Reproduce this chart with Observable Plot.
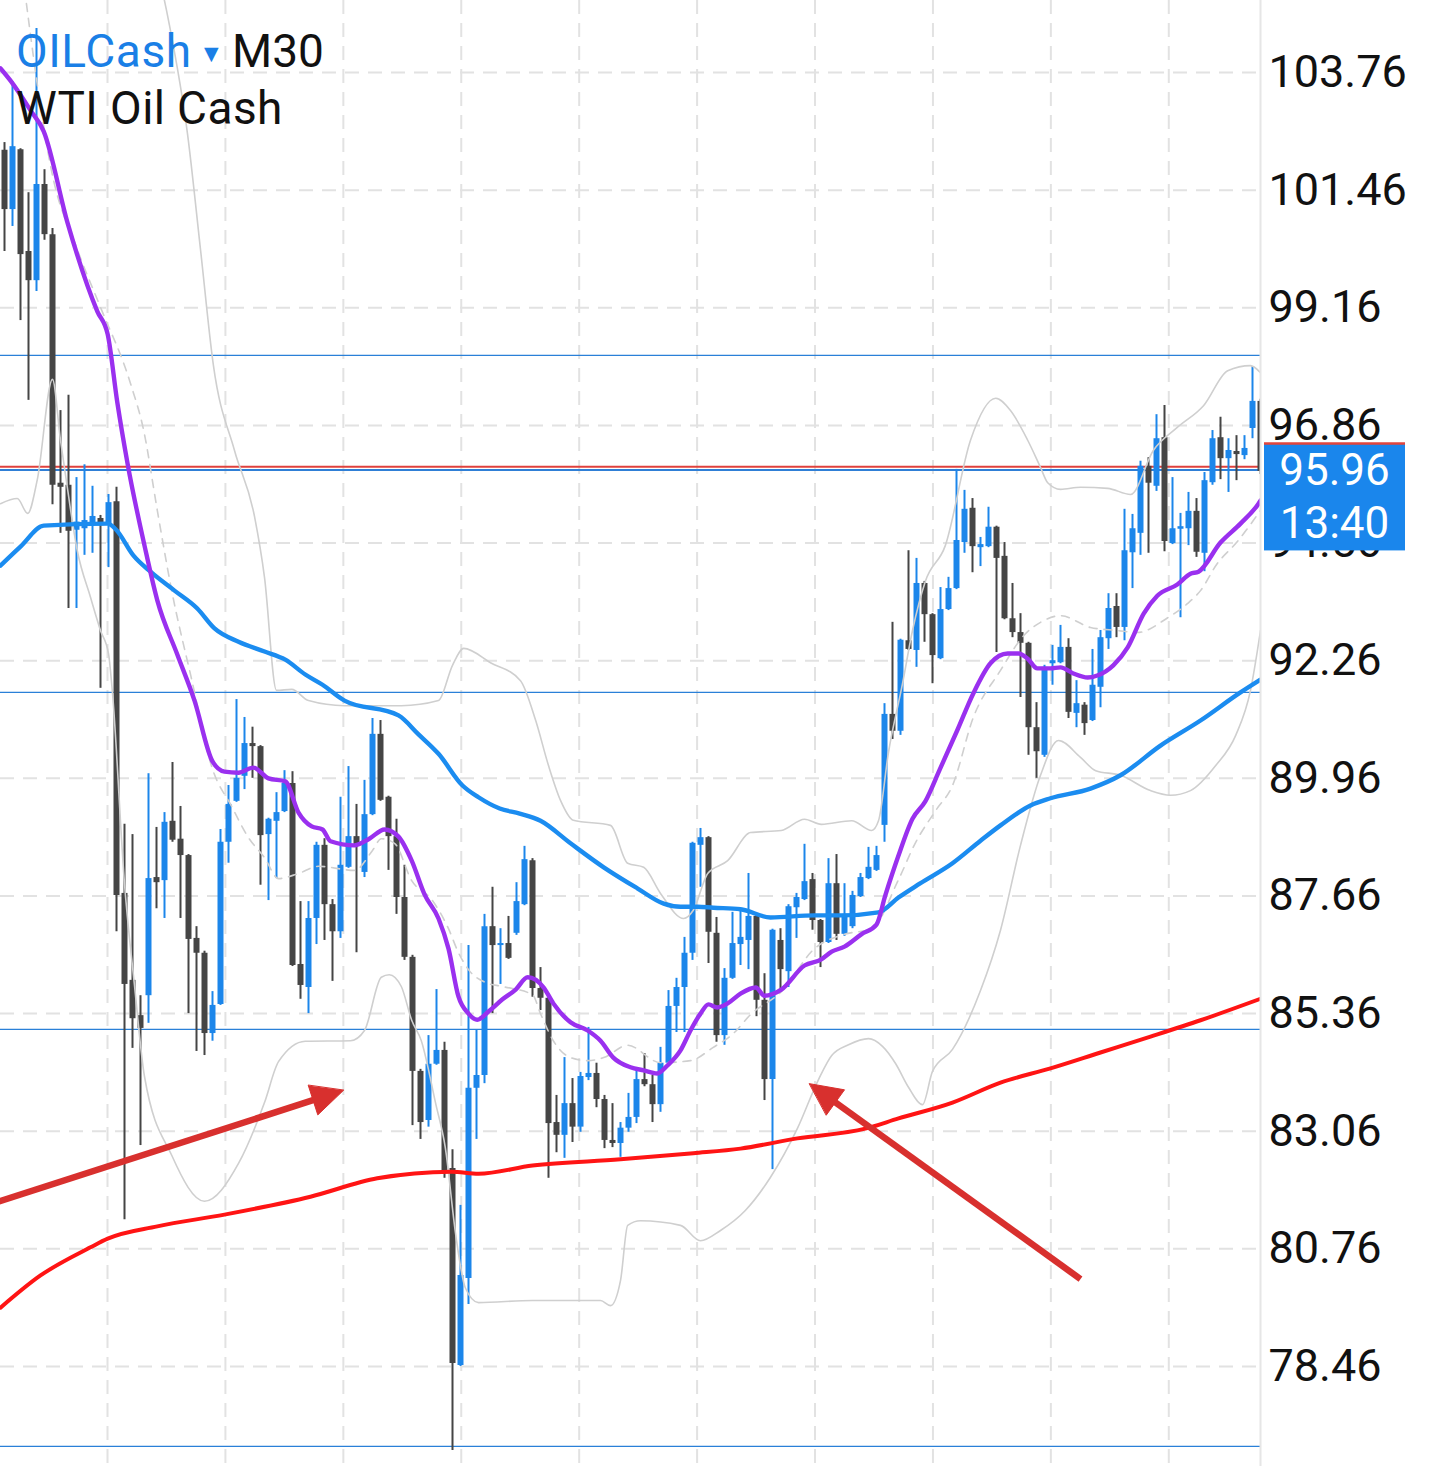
<!DOCTYPE html>
<html>
<head>
<meta charset="utf-8">
<script src="https://cdn.jsdelivr.net/npm/d3@7"></script>
<script src="https://cdn.jsdelivr.net/npm/@observablehq/plot@0.6"></script>
<style>
  html, body { margin: 0; padding: 0; background: #fff; }
  #chart { width: 1440px; height: 1466px; overflow: hidden; }
  svg { font-family: Roboto, "Noto Sans", sans-serif; }
</style>
</head>
<body>
<div id="chart"></div>
<script>
// ---------- data (OILCash, M30) ----------
const OPEN = [
  102.24,101.08,102.25,100.26,99.69,101.57,100.59,95.73,95.69,94.81,
  94.84,94.94,95.04,94.92,95.37,87.71,86.01,85.32,85.71,88.02,
  87.96,89.12,88.77,88.45,86.83,86.54,84.97,85.54,88.71,89.51,
  90.00,90.64,90.58,88.86,89.12,89.31,89.86,86.32,85.87,87.22,
  88.65,87.49,86.96,88.22,88.82,88.12,89.25,90.82,89.59,88.82,
  87.63,86.46,84.23,83.27,84.37,84.64,82.33,78.48,80.18,83.90,
  84.15,87.06,86.69,86.73,86.93,87.49,88.35,85.85,85.66,83.23,
  82.98,83.60,83.14,84.11,84.19,83.68,82.88,82.82,83.12,83.33,
  84.07,83.97,83.58,84.39,85.50,85.87,86.54,88.65,88.80,86.93,
  84.93,86.05,86.71,86.79,87.26,85.62,84.07,86.79,86.18,87.43,
  87.59,87.98,87.18,86.75,87.90,86.91,87.06,87.65,88.00,88.16,
  89.04,91.21,90.88,92.65,92.46,93.77,93.16,92.30,93.26,93.67,
  94.57,95.24,94.47,94.49,94.87,94.30,93.08,92.81,92.60,90.95,
  90.41,92.20,92.22,92.52,91.23,91.39,91.09,91.74,92.69,93.32,
  92.91,94.37,94.75,96.06,95.67,96.62,94.55,94.83,94.84,95.18,
  94.36,95.74,96.62,96.21,96.35,96.27,96.80,97.33
];
const HIGH = [
  102.39,103.58,102.27,101.41,104.62,101.86,100.71,97.15,97.45,95.84,
  96.09,95.67,95.10,95.51,95.65,89.06,88.86,85.71,90.05,89.00,
  89.29,90.27,89.41,88.47,87.06,86.58,85.79,88.96,89.82,91.50,
  91.15,90.96,90.60,89.18,89.68,90.11,90.09,87.55,87.55,88.71,
  88.78,87.59,89.59,90.19,89.45,89.92,91.13,91.09,89.61,89.16,
  88.26,86.50,84.27,84.93,85.83,84.80,82.70,81.61,86.69,85.03,
  87.30,87.83,87.02,87.26,87.92,88.63,88.39,86.26,85.68,83.76,
  84.50,84.09,84.21,85.09,84.39,83.76,83.60,83.23,83.80,84.25,
  84.58,84.15,84.70,85.81,86.05,86.85,88.71,88.98,88.82,87.24,
  86.24,87.34,87.41,88.10,87.28,86.14,87.01,87.02,87.49,87.71,
  88.67,88.10,87.20,88.39,88.47,87.90,87.75,88.10,88.61,88.63,
  91.42,93.01,92.68,94.41,94.26,93.81,93.18,93.69,93.89,96.00,
  95.59,95.43,94.67,95.26,94.89,94.57,93.77,93.18,92.62,91.44,
  92.17,92.56,92.95,92.69,91.87,91.44,92.48,92.85,93.57,93.57,
  95.22,95.12,96.16,96.23,97.07,97.25,95.84,95.14,95.55,95.43,
  95.94,96.76,97.02,96.60,96.66,96.66,98.01,97.37
];
const LOW = [
  100.26,100.75,98.91,97.35,99.48,100.48,95.31,94.75,93.28,93.28,
  94.32,94.36,91.72,94.08,86.96,81.33,84.68,82.78,85.17,87.41,
  87.22,88.71,87.22,85.36,84.62,84.54,84.82,85.52,88.30,89.49,
  89.74,89.96,87.87,87.57,88.00,89.29,86.28,85.64,85.36,86.71,
  86.79,85.99,86.83,88.20,86.55,88.02,89.23,89.51,88.16,87.30,
  86.40,83.17,82.90,83.14,84.35,82.14,76.82,78.46,79.67,82.90,
  83.99,85.36,85.93,86.42,86.89,87.47,85.68,85.42,82.14,82.64,
  82.53,82.84,83.04,84.05,83.52,82.72,82.74,82.55,83.04,83.21,
  83.93,83.23,83.43,84.37,84.99,84.99,86.40,87.83,86.34,84.80,
  84.74,86.03,86.30,86.22,85.30,83.66,82.31,85.83,85.87,86.83,
  87.57,86.99,86.26,86.73,86.79,86.87,87.02,87.63,87.98,88.14,
  88.71,90.72,90.80,92.46,92.13,92.62,91.81,92.28,93.24,93.65,
  94.36,93.98,94.10,94.47,92.42,93.06,92.71,91.54,90.41,89.96,
  90.37,91.78,92.20,91.13,90.95,90.80,91.07,91.34,92.48,92.71,
  92.65,93.67,94.32,94.36,95.57,94.39,94.53,93.10,94.51,94.28,
  94.00,95.69,95.80,95.55,95.78,96.19,96.60,95.90
];
const CLOSE = [
  101.08,102.31,100.20,99.69,101.57,100.59,95.69,95.65,94.79,94.97,
  95.00,95.08,94.90,95.35,87.67,85.93,85.26,85.07,88.00,87.92,
  89.10,88.75,88.45,86.81,86.54,84.97,85.52,88.71,89.45,89.96,
  90.64,90.58,88.84,89.16,89.29,89.86,86.30,85.91,87.22,88.65,
  87.49,86.96,88.26,88.82,88.63,89.25,90.82,89.53,88.82,87.63,
  86.46,84.23,83.23,84.37,84.64,82.23,78.52,80.24,83.90,84.15,
  87.06,86.69,86.73,86.44,87.55,88.37,85.85,85.66,83.21,82.98,
  83.60,83.14,84.13,84.19,83.68,82.88,82.82,83.12,83.33,84.07,
  83.97,83.58,84.39,85.50,85.87,86.54,88.69,88.80,86.95,84.93,
  86.05,86.73,86.85,87.26,85.62,84.07,86.99,86.22,87.45,87.63,
  87.94,87.18,86.75,87.90,86.91,87.30,87.67,88.02,88.22,88.45,
  91.21,90.88,92.66,92.48,93.77,93.16,92.36,93.26,93.67,94.61,
  95.22,94.49,94.53,94.87,94.26,93.08,92.81,92.60,90.95,90.48,
  92.13,92.26,92.52,91.25,91.42,91.03,91.78,92.71,93.28,92.91,
  94.41,94.84,96.06,95.73,96.60,94.59,94.84,94.88,95.18,94.38,
  95.78,96.60,96.21,96.37,96.29,96.41,97.33,95.96
];

// indicator lines, [bar index, price]
const MA_FAST = [[-0.5,103.84],[0.75,103.60],[3.25,103.02],[4.9,102.61],[7.9,100.81],[11.6,99.09],[12.9,98.64],[14.1,97.31],[15.4,96.10],[17.5,94.51],[19.1,93.44],[21.6,92.38],[23.75,91.48],[26,90.29],[27.5,90.09],[29.25,90.07],[31.1,90.17],[33,89.96],[35.1,89.90],[36.75,89.29],[38.4,89.02],[39.75,88.96],[40.75,88.73],[43.75,88.65],[45.6,88.78],[47.5,88.96],[49.25,88.82],[50.9,88.35],[52.5,87.69],[54.25,87.22],[55.5,86.63],[56.75,85.69],[58,85.36],[59.1,85.24],[60.5,85.40],[62.25,85.64],[63.9,85.83],[65.4,86.07],[67.4,85.87],[68.6,85.56],[70.75,85.19],[72.9,85.03],[74.5,84.83],[76.1,84.50],[78.25,84.31],[79.9,84.25],[81.6,84.19],[82.9,84.35],[84.5,84.64],[85.75,85.03],[87,85.36],[88,85.54],[89.1,85.48],[90.4,85.56],[92,85.75],[93.9,85.87],[95,85.71],[97.1,85.83],[100,86.30],[102.1,86.42],[103.4,86.57],[105,86.67],[107.1,86.91],[109,87.10],[110.1,87.67],[111.75,88.45],[113.5,89.17],[115.1,89.51],[116.9,90.13],[119.1,90.90],[121.1,91.62],[123.25,92.21],[125.4,92.40],[126.75,92.40],[127.9,92.30],[129.1,92.11],[130.75,92.11],[132,92.13],[133.6,92.01],[135.4,91.93],[136.6,91.97],[138.6,92.17],[140.4,92.52],[142.4,93.18],[144.1,93.53],[146.6,93.75],[148.25,93.96],[149.25,94.00],[152,94.57],[154.5,94.94],[156.75,95.33],[157,95.39]];
const MA_MID = [[-0.5,94.12],[2,94.49],[4.9,94.90],[12.9,94.94],[13.9,94.83],[16.1,94.32],[18.25,94.00],[21.25,93.63],[24.1,93.28],[26.25,92.89],[29.25,92.63],[32.5,92.44],[35.1,92.28],[37.6,91.99],[39.75,91.79],[42.5,91.48],[49.25,91.19],[51.75,90.82],[54.25,90.44],[57.25,89.82],[59.25,89.59],[61.9,89.37],[64.4,89.27],[67,89.13],[70.75,88.69],[74.9,88.22],[79.1,87.81],[82.4,87.51],[84.5,87.45],[86.6,87.45],[88.6,87.43],[92,87.40],[95.75,87.24],[101.25,87.28],[104.6,87.28],[109.25,87.34],[111.75,87.63],[114.4,87.90],[118.5,88.30],[122,88.74],[124.5,89.04],[128.25,89.43],[130.75,89.57],[135.75,89.76],[139.5,90.02],[144.5,90.60],[149.5,91.09],[154.5,91.64],[157,91.89]];
const MA_SLOW = [[-0.5,79.61],[4.5,80.24],[10.75,80.79],[12.9,80.96],[19.1,81.20],[27.5,81.43],[38.25,81.78],[46.6,82.14],[55.9,82.27],[59.25,82.23],[66,82.39],[77,82.51],[86.1,82.63],[92,82.72],[99.1,82.92],[107.6,83.11],[111.75,83.31],[118.5,83.62],[124.5,84.01],[130.75,84.29],[137,84.60],[143.25,84.91],[149.5,85.23],[157,85.65]];
const BB_UPPER = [[18.25,106.34],[20.5,104.78],[22.9,102.53],[24.5,100.30],[26.1,98.05],[28.75,96.37],[31.25,95.08],[32.5,93.89],[34,91.68],[35.9,91.70],[38,91.48],[42.5,91.38],[49.6,91.38],[54.25,91.48],[56,92.17],[57.4,92.50],[60.75,92.22],[64.5,91.87],[66.4,91.09],[68,90.21],[69.5,89.53],[71.1,89.14],[75.75,89.04],[77.9,88.30],[79.9,88.22],[82,87.71],[84.9,87.22],[86.1,87.38],[87.9,88.10],[90.4,88.35],[93.25,88.90],[97.1,88.94],[100,89.16],[102.1,89.06],[105.9,89.13],[108.4,88.94],[109.25,89.13],[110.5,90.47],[112.25,91.81],[113.5,92.85],[115.1,93.81],[117.6,94.51],[120.75,96.57],[123.9,97.39],[125.75,97.15],[127.9,96.57],[129.5,96.04],[130.4,95.74],[132,95.61],[134.5,95.65],[137.9,95.63],[140.75,95.51],[143.6,96.37],[146.6,96.82],[149.9,97.25],[152.9,97.93],[155.75,98.03],[157,97.89]];
const BB_MIDDLE = [[2.5,105.4],[4.6,103.0],[5.75,101.94],[9.1,100.30],[12,99.17],[15.75,97.68],[17.4,96.76],[19.1,95.20],[20.9,93.63],[23.4,91.89],[25.9,90.19],[28.4,89.41],[30.5,88.80],[32.5,88.41],[34.25,88.00],[36.75,88.10],[39.25,88.24],[43.75,88.16],[46,88.55],[47.1,88.78],[48.75,88.69],[50.9,87.96],[53.4,87.59],[55.5,87.02],[56.75,86.55],[58,86.22],[60.1,85.97],[62.25,85.89],[66,85.73],[67,85.36],[68.6,84.83],[70.75,84.50],[72.9,84.44],[74.9,84.50],[77.9,84.74],[82,84.40],[85.75,84.44],[88.6,84.70],[91.1,84.97],[93.25,85.34],[97.1,85.79],[101.25,86.63],[105,86.91],[108.4,87.02],[111.75,87.98],[113.9,88.71],[116.4,89.33],[118.5,89.82],[121.1,91.15],[124.5,92.07],[127.4,92.75],[129.5,93.01],[132,93.14],[135.75,92.91],[139.1,92.85],[141.6,92.81],[145.4,93.10],[147.9,93.38],[149.5,93.63],[151.6,94.16],[154,94.57],[156.1,95.00],[157,95.20]];
const BB_LOWER = [[-0.5,95.33],[1.6,95.43],[2.9,95.14],[4.1,95.80],[6,97.76],[7,96.57],[7.6,95.92],[9.1,94.41],[10.75,93.50],[12,92.85],[13,92.40],[13.5,91.62],[15,87.90],[16.25,85.91],[17.5,84.13],[20.9,82.59],[25,81.69],[29.25,82.43],[32.5,83.62],[34.25,84.42],[37.6,84.82],[43.25,84.83],[45,85.03],[47.1,86.07],[48.1,86.12],[49.6,85.89],[50.9,85.23],[52.1,84.83],[53.9,83.60],[55.1,82.74],[56.4,81.04],[57.6,80.00],[59.25,79.71],[66,79.75],[74.5,79.75],[75.75,79.65],[77,80.14],[77.9,81.22],[79.5,81.31],[84.5,81.22],[87,80.92],[89.5,81.12],[92.6,81.51],[95.75,82.16],[99.1,83.11],[101.75,84.07],[103.4,84.54],[105.5,84.75],[108,84.87],[109.75,84.72],[111.4,84.38],[113,83.92],[114.75,83.58],[116,84.23],[118.5,84.66],[122,85.81],[124.5,86.99],[127,88.65],[129.5,90.02],[131.75,90.70],[134.5,90.37],[136.4,90.11],[139.5,90.02],[143.25,89.72],[145.75,89.63],[148.25,89.72],[151.4,90.21],[153.9,90.80],[155.75,91.68],[157,92.85]];

const PRICE_TICKS = [103.76, 101.46, 99.16, 96.86, 94.56, 92.26, 89.96, 87.66, 85.36, 83.06, 80.76, 78.46];
const TIME_GRID = [12.875, 27.615, 42.355, 57.095, 71.835, 86.575, 101.315, 116.055, 130.795, 145.535];
const LEVELS = [98.23, 91.64, 85.05, 76.90];
const ASK_LINE = 96.05;
const BID_LINE = 95.99;
const BID_TEXT = "95.96";
const TIMER_TEXT = "13:40";
// arrows: [fromIndex, fromPrice, toIndex, toPrice]
const ARROWS = [[-1.2, 81.66, 42.375, 83.86], [134.5, 80.17, 100.625, 83.99]];

// ---------- styles ----------
const BULL = "#1c86ea", BEAR = "#454545";
const PURPLE = "#9a30ef", BLUE_MA = "#1b8cf0", RED_MA = "#ff1414";
const BB = "#cfcfcf", GRID = "#e2e2e2", LEVEL = "#2a80d8", ARROW = "#d8302e";
const X_DOMAIN = [-0.5, 157];
const Y_DOMAIN = [76.505, 105.168];
const W = 1440, H = 1466, MR = 180;

const candles = OPEN.map((o, i) => ({i, o, h: HIGH[i], l: LOW[i], c: CLOSE[i]}));
const bull = candles.filter(d => d.c >= d.o);
const bear = candles.filter(d => d.c < d.o);
const pts = arr => arr.map(([x, y]) => ({x, y}));

// arrow heads built in data space from each arrow's tip and direction
const sx = d3.scaleLinear(X_DOMAIN, [0, W - MR]);
const sy = d3.scaleLinear(Y_DOMAIN, [H, 0]);
const HEAD_L = 32, HEAD_W = 15.5;
const shafts = [], heads = [];
ARROWS.forEach(([x1, y1, x2, y2], k) => {
  const X1 = sx(x1), Y1 = sy(y1), X2 = sx(x2), Y2 = sy(y2);
  const len = Math.hypot(X2 - X1, Y2 - Y1), ux = (X2 - X1) / len, uy = (Y2 - Y1) / len;
  const bx = X2 - ux * HEAD_L, by = Y2 - uy * HEAD_L, nx = -uy, ny = ux;
  shafts.push({x1, y1, x2: sx.invert(bx + ux * 4), y2: sy.invert(by + uy * 4)});
  [[X2, Y2], [bx + nx * HEAD_W, by + ny * HEAD_W], [bx - nx * HEAD_W, by - ny * HEAD_W]]
    .forEach(([px, py]) => heads.push({k, x: sx.invert(px), y: sy.invert(py)}));
});

const line = (data, stroke, strokeWidth, extra = {}) =>
  Plot.line(pts(data), {x: "x", y: "y", stroke, strokeWidth, curve: "monotone-x", clip: true, ...extra});

const chart = Plot.plot({
  width: W, height: H,
  marginLeft: 0, marginRight: MR, marginTop: 0, marginBottom: 0,
  x: {domain: X_DOMAIN, axis: null},
  y: {domain: Y_DOMAIN, axis: null},
  style: {background: "#fff", fontFamily: "Roboto", overflow: "visible"},
  marks: [
    Plot.ruleY(PRICE_TICKS, {stroke: GRID, strokeWidth: 2, strokeDasharray: "14,9"}),
    Plot.ruleX(TIME_GRID, {stroke: GRID, strokeWidth: 2, strokeDasharray: "14,9"}),
    Plot.ruleY(LEVELS, {stroke: LEVEL, strokeWidth: 1.2}),
    Plot.ruleY([ASK_LINE], {stroke: "#e0413c", strokeWidth: 2}),
    Plot.ruleY([BID_LINE], {stroke: "#2f7fd6", strokeWidth: 2}),
    // candles
    Plot.ruleX(bear, {x: "i", y1: "l", y2: "h", stroke: BEAR, strokeWidth: 2, clip: true}),
    Plot.ruleX(bull, {x: "i", y1: "l", y2: "h", stroke: BULL, strokeWidth: 2, clip: true}),
    Plot.ruleX(bear, {x: "i", y1: "o", y2: "c", stroke: BEAR, strokeWidth: 6, clip: true}),
    Plot.ruleX(bull, {x: "i", y1: "o", y2: "c", stroke: BULL, strokeWidth: 6, clip: true}),
    // bollinger bands
    line(BB_UPPER, BB, 1.6),
    line(BB_LOWER, BB, 1.6),
    line(BB_MIDDLE, BB, 1.6, {strokeDasharray: "8,7"}),
    // moving averages
    line(MA_SLOW, RED_MA, 4),
    line(MA_MID, BLUE_MA, 4.4),
    line(MA_FAST, PURPLE, 4.4),
    // arrows
    Plot.link(shafts, {x1: "x1", y1: "y1", x2: "x2", y2: "y2", stroke: ARROW, strokeWidth: 6.5, clip: true}),
    Plot.line(heads, {x: "x", y: "y", z: "k", fill: ARROW, stroke: ARROW, strokeWidth: 1, curve: "linear-closed"}),
    // right price axis
    Plot.ruleX([X_DOMAIN[1]], {stroke: "#e6e6e6", strokeWidth: 2}),
    Plot.text(PRICE_TICKS, {y: d => d, text: d => d.toFixed(2), frameAnchor: "right", dx: 8,
      textAnchor: "start", fontSize: 45, fill: "#111", fontFamily: "Roboto"})
  ]
});

const svg = d3.select(chart);
// current price box
const yb = chart.scale("y").apply(BID_LINE);
const bx0 = W - MR + 4, bw = 141;
svg.append("rect").attr("x", bx0).attr("y", yb - 26).attr("width", bw).attr("height", 107).attr("fill", "#1a86ec");
svg.append("line").attr("x1", bx0).attr("x2", bx0 + bw).attr("y1", yb - 26).attr("y2", yb - 26)
  .attr("stroke", "#e2453c").attr("stroke-width", 2.5);
svg.append("text").attr("x", bx0 + bw / 2).attr("y", yb + 16).attr("text-anchor", "middle")
  .attr("font-size", 44).attr("fill", "#fff").attr("font-family", "Roboto").text(BID_TEXT);
svg.append("text").attr("x", bx0 + bw / 2).attr("y", yb + 69).attr("text-anchor", "middle")
  .attr("font-size", 44).attr("fill", "#fff").attr("font-family", "Roboto").text(TIMER_TEXT);

// symbol header
const header = (x, y, size, fill, family, txt, ls = 0) =>
  svg.append("text").attr("x", x).attr("y", y).attr("text-anchor", "start").attr("font-size", size)
    .attr("letter-spacing", ls).attr("fill", fill).attr("font-family", family).text(txt);
header(16, 67, 46, "#1a7fe6", "Roboto", "OILCash", 0.6);
header(204, 60, 19, "#1a7fe6", "DejaVu Sans", "▼");
header(232, 67, 46, "#111", "Roboto", "M30");
header(16, 124, 46, "#111", "Roboto", "WTI Oil Cash", 0.4);

document.getElementById("chart").appendChild(chart);
</script>
</body>
</html>
